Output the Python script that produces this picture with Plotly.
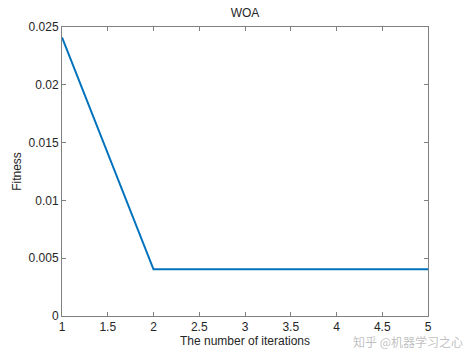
import plotly.graph_objects as go

iterations = [1, 2, 3, 4, 5]
fitness = [0.0241, 0.00404, 0.00404, 0.00404, 0.00404]
x_ticks = [1, 1.5, 2, 2.5, 3, 3.5, 4, 4.5, 5]
y_ticks = [0, 0.005, 0.01, 0.015, 0.02, 0.025]
y_tick_labels = ["0", "0.005", "0.01", "0.015", "0.02", "0.025"]

fig = go.Figure()
fig.add_trace(go.Scatter(x=iterations, y=fitness, mode="lines",
                         line=dict(color="#0072BD", width=2)))

axis_common = dict(showgrid=False, zeroline=False, showline=True, mirror="ticks",
                   linecolor="#808080", linewidth=1, ticks="inside", ticklen=4,
                   tickcolor="#808080", automargin=False,
                   tickfont=dict(family="Liberation Sans, Arial", size=12, color="#262626"))

fig.update_layout(
    width=474, height=355,
    margin=dict(l=62, r=46, t=27, b=39, autoexpand=False),
    paper_bgcolor="white", plot_bgcolor="white",
    showlegend=False,
    title=dict(text="WOA", xref="paper", x=0.5, xanchor="center", y=0.965, yanchor="middle",
               font=dict(family="Liberation Sans, Arial", size=12, color="#262626")),
    xaxis=dict(range=[1, 5], tickvals=x_ticks, ticktext=[f"{v:g}" for v in x_ticks],
               title=dict(text="The number of iterations", standoff=2,
                          font=dict(family="Liberation Sans, Arial", size=12, color="#262626")),
               **axis_common),
    yaxis=dict(range=[0, 0.025], tickvals=y_ticks, ticktext=y_tick_labels,
               title=dict(text="Fitness", standoff=4,
                          font=dict(family="Liberation Sans, Arial", size=12, color="#262626")),
               **axis_common),
)

fig.add_annotation(text="知乎 @机器学习之心", xref="paper", yref="paper",
                   x=1.1, xanchor="right", y=-0.088, yanchor="middle",
                   showarrow=False,
                   font=dict(family="Noto Sans CJK SC", size=12, color="rgba(150,150,150,0.6)"))

fig.write_html("out.html", config={"displayModeBar": False},
               post_script="document.body.style.margin='0';document.body.style.overflow='hidden';")
